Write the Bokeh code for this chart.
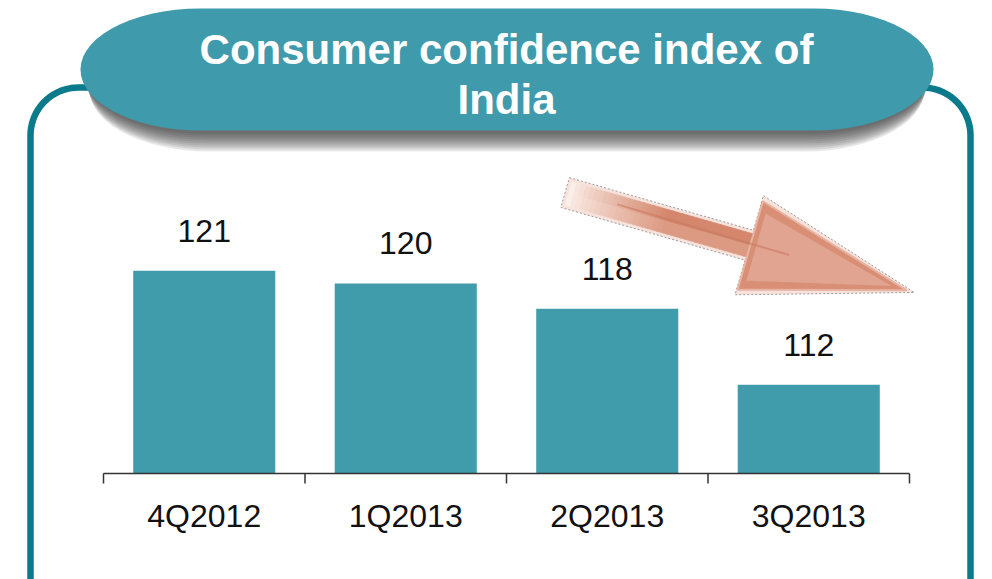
import math
from bokeh.plotting import figure
from bokeh.models import Range1d
from bokeh.core.properties import value
from bokeh.embed import file_html
from bokeh.resources import INLINE

# ---- data ----
categories = ["4Q2012", "1Q2013", "2Q2013", "3Q2013"]
index_values = [121, 120, 118, 112]
title_lines = ["Consumer confidence index of", "India"]
axis_base = 105

# ---- styling ----
BAR = "#409bab"
FRAME = "#0b7a8b"
FONT = value("Liberation Sans")

W, H = 992, 579
PX_PER_UNIT = 12.67
AXIS_PX = 473
X_LEFT_PX, CAT_PX = 103, 201.5

n = len(categories)
centers = [i + 0.5 for i in range(n)]

x_range = Range1d(-X_LEFT_PX / CAT_PX, (W - X_LEFT_PX) / CAT_PX)
y_range = Range1d(axis_base - (H - AXIS_PX) / PX_PER_UNIT, axis_base + AXIS_PX / PX_PER_UNIT)

p = figure(width=W, height=H, x_range=x_range, y_range=y_range,
           output_backend="svg", toolbar_location=None, min_border=0,
           x_axis_location=None, y_axis_location=None)
p.outline_line_color = None
p.xgrid.visible = False
p.ygrid.visible = False
p.background_fill_color = "white"
p.border_fill_color = "white"
p.extra_x_ranges = {"px": Range1d(0, W)}
p.extra_y_ranges = {"px": Range1d(H, 0)}
PX = dict(x_range_name="px", y_range_name="px")

# ---- rounded frame ----
def arc(cx, cy, r, a0, a1, k=20):
    return [(cx + r * math.cos(math.radians(a0 + (a1 - a0) * i / k)),
             cy + r * math.sin(math.radians(a0 + (a1 - a0) * i / k))) for i in range(k + 1)]

FL, FR, FT, FRAD = 30, 970, 87, 48
pts = [(FL, H + 20)] + arc(FL + FRAD, FT + FRAD, FRAD, 180, 270) + \
      arc(FR - FRAD, FT + FRAD, FRAD, 270, 360) + [(FR, H + 20)]
p.line([q[0] for q in pts], [q[1] for q in pts], line_color=FRAME, line_width=6.5, **PX)

# ---- title shape (stadium with elliptical caps) ----
def stadium(L, R, cy, ry, rx, k=30):
    out = []
    for i in range(k + 1):
        a = math.radians(90 + 180 * i / k)
        out.append((L + rx + rx * math.cos(a), cy + ry * math.sin(a)))
    for i in range(k + 1):
        a = math.radians(-90 + 180 * i / k)
        out.append((R - rx + rx * math.cos(a), cy + ry * math.sin(a)))
    return out

# soft shadow built from stacked translucent layers
for dy in range(21, 1, -2):
    inset = 2 + dy * 0.35
    s = stadium(80 + inset, 933 - inset, 69 + dy, 61, 120)
    p.patch([q[0] for q in s], [q[1] for q in s], fill_color="#2a2a2a", fill_alpha=0.11,
            line_color=None, **PX)

s = stadium(80, 933, 69, 61, 120)
p.patch([q[0] for q in s], [q[1] for q in s], fill_color="#3f9aab", line_color=None, **PX)

p.text(x=[506, 506], y=[49, 99], text=title_lines, text_color="white",
       text_font=FONT, text_font_style="bold", text_font_size="42px",
       text_align="center", text_baseline="alphabetic", **PX)

# ---- arrow ----
P0 = (568, 193)
ang = math.atan2(97, 339)
d = (math.cos(ang), math.sin(ang))
nrm = (-math.sin(ang), math.cos(ang))
def T(u, v):
    return (P0[0] + u * d[0] + v * nrm[0], P0[1] + u * d[1] + v * nrm[1])

L_AR, HB, HW, SW = 352, 189, 46, 12
def arrow_poly(g):
    loc = [(-g, -SW - g), (HB - g * 0.3, -SW - g), (HB - g * 0.3, -HW - g * 1.6),
           (L_AR + g * 2.2, 0), (HB - g * 0.3, HW + g * 1.6), (HB - g * 0.3, SW + g), (-g, SW + g)]
    return [T(u, v) for u, v in loc]

halo = arrow_poly(3.5)
p.patch([q[0] for q in halo], [q[1] for q in halo], fill_color="#f6e0d8", fill_alpha=0.9,
        line_color="#9a9a9a", line_dash="2 2", line_width=1, **PX)

def mix(c1, c2, t):
    a = [int(c1[i:i + 2], 16) for i in (1, 3, 5)]
    b = [int(c2[i:i + 2], 16) for i in (1, 3, 5)]
    return "#%02x%02x%02x" % tuple(round(a[k] + (b[k] - a[k]) * t) for k in range(3))

# shaft strips with fading tail (opaque blends, no seams)
for half, c_end in [((-SW, 0), "#d4876c"), ((0, SW), "#dc9a83")]:
    xs, ys, cols = [], [], []
    step = 5
    u = 0
    while u < HB:
        u1 = min(u + step, HB)
        quad = [T(u, half[0]), T(u1 + 0.8, half[0]), T(u1 + 0.8, half[1]), T(u, half[1])]
        xs.append([q[0] for q in quad]); ys.append([q[1] for q in quad])
        cols.append(mix("#fbefea", c_end, min(1.0, (u / 100.0) ** 0.8)))
        u = u1
    p.patches(xs, ys, fill_color=cols, line_color=cols, line_width=0.6, **PX)

head = [T(HB, -HW), T(L_AR, 0), T(HB, HW)]
p.patch([q[0] for q in head], [q[1] for q in head], fill_color="#d98f76",
        line_color="#e7b3a2", line_width=2, **PX)
inner = [T(HB + 6, -HW + 11), T(L_AR - 16, 0), T(HB + 6, HW - 11)]
p.patch([q[0] for q in inner], [q[1] for q in inner], fill_color="#e0a490",
        line_color=None, **PX)
# darker stripe along shaft into head
st = [T(50, -3), T(HB + 40, -1.5)]
p.line([q[0] for q in st], [q[1] for q in st], line_color="#c87a60", line_width=2, line_alpha=0.6, **PX)

# ---- bars ----
p.vbar(x=centers, top=index_values, bottom=axis_base, width=0.705,
       fill_color=BAR, line_color=None)

# value labels
p.text(x=centers, y=index_values, text=[str(v) for v in index_values],
       text_font=FONT, text_font_size="32px", text_color="#111111",
       text_align="center", text_baseline="alphabetic", y_offset=-40)

# ---- category axis ----
tick_len = 10 / PX_PER_UNIT
p.segment(x0=[0], y0=[axis_base], x1=[n], y1=[axis_base], line_color="#333333", line_width=1.5)
p.segment(x0=list(range(n + 1)), y0=[axis_base] * (n + 1), x1=list(range(n + 1)),
          y1=[axis_base - tick_len] * (n + 1), line_color="#333333", line_width=1.5)
p.text(x=centers, y=[axis_base] * n, text=categories, text_font=FONT, text_font_size="32px",
       text_color="#111111", text_align="center", text_baseline="alphabetic", y_offset=42)

open("out.html", "w").write(file_html(p, INLINE))
